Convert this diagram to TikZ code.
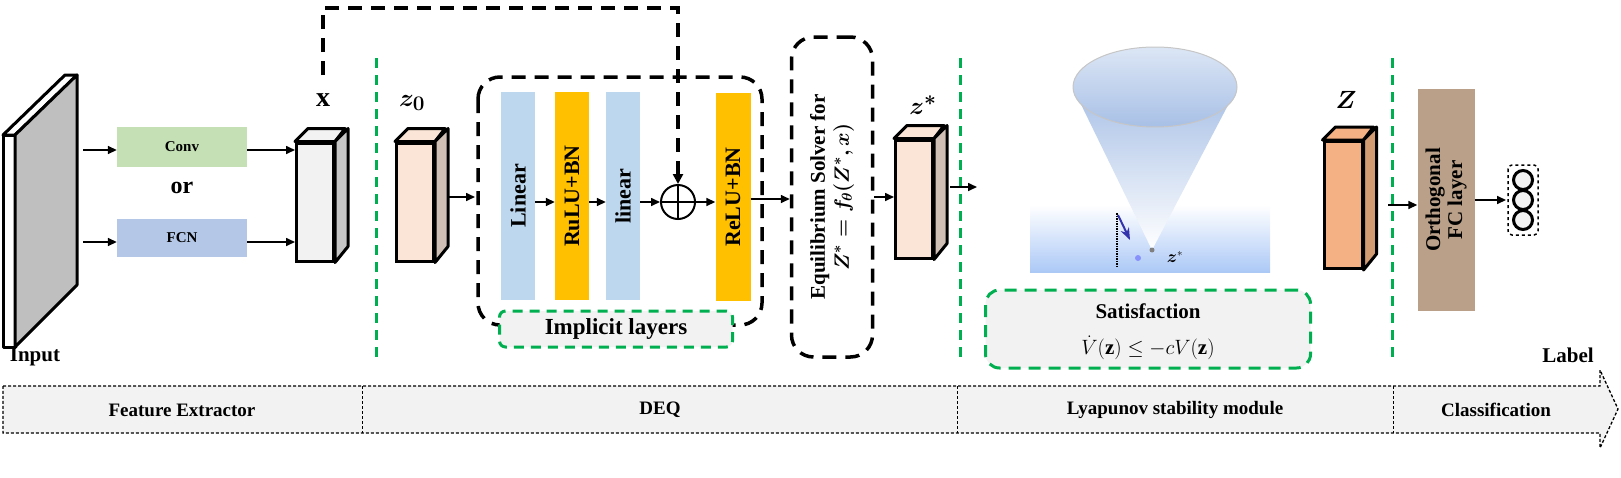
\documentclass[tikz,border=0pt]{standalone}
\usepackage{fontspec}
\setmainfont{Liberation Serif}
\usepackage{amsmath,bm}
\usetikzlibrary{arrows.meta,shadings}
\definecolor{gdash}{HTML}{00B050}
\definecolor{conv}{HTML}{C5E0B4}
\definecolor{fcn}{HTML}{B4C7E7}
\definecolor{lin}{HTML}{BDD7EE}
\definecolor{relu}{HTML}{FFC000}
\definecolor{peach}{HTML}{FBE5D6}
\definecolor{peachside}{HTML}{D0BFB5}
\definecolor{zorange}{HTML}{F4B183}
\definecolor{zside}{HTML}{D39B72}
\definecolor{brownbox}{HTML}{BAA088}
\definecolor{lgray}{HTML}{F2F2F2}
\definecolor{coneblue}{HTML}{A8C0E6}
\definecolor{conelight}{HTML}{DCE6F5}
\definecolor{planeblue}{HTML}{9DBFF5}
\tikzset{
  arr/.style={-{Triangle[length=9pt,width=8pt]},line width=1.6pt},
  front/.style={draw,line width=3pt,minimum width=37pt,minimum height=118pt,inner sep=0pt},
  face/.style={draw,line width=3pt,line join=round},
  layer/.style={minimum width=34pt,minimum height=208pt,inner sep=0pt},
  vtext/.style={rotate=90,font=\bfseries\fontsize{22}{24}\selectfont},
  gsep/.style={gdash,dashed,line width=3pt,dash pattern=on 10pt off 7pt},
  bdash/.style={draw,line width=3.5pt,dash pattern=on 14pt off 9pt,rounded corners=22pt},
  lbl/.style={font=\bfseries\fontsize{21}{23}\selectfont},
  biglbl/.style={font=\bfseries\boldmath\fontsize{28}{30}\selectfont},
}
\begin{document}
\begin{tikzpicture}[x=1pt,y=-1pt]
\useasboundingbox (0,0) rectangle (1621,477);
% input slab
\draw[face,fill=white] (3,135) rectangle (15,347);
\draw[face,fill=white] (3,135) -- (65,75) -- (77,75) -- (15,135) -- cycle;
\draw[face,fill=gray!50] (15,135) -- (77,75) -- (77,285) -- (15,347) -- cycle;
\node[lbl] (inp) at (35,357) {Input};
% conv/fcn
\node[fill=conv,minimum width=130pt,minimum height=40pt,font=\bfseries\fontsize{15}{17}\selectfont] (conv) at (182,147) {Conv};
\node[fill=fcn,minimum width=130pt,minimum height=38pt,font=\bfseries\fontsize{15}{17}\selectfont] (fcn) at (182,238) {FCN};
\node[font=\bfseries\fontsize{24}{26}\selectfont] (or) at (182,188) {or};
\coordinate (i1) at (83,150); \coordinate (i2) at (83,242);
\draw[arr] (i1) -- (conv.west |- i1);
\draw[arr] (i2) -- (fcn.west |- i2);
% x cuboid
\node[front,fill=lgray] (xc) at (315,202) {};
\draw[face,fill=lgray] (xc.north west) -- ++(13,-13) -- ++(37,0) -- (xc.north east) -- cycle;
\draw[face,fill=gray!45] (xc.north east) -- ++(13,-13) -- ++(0,118) -- (xc.south east) -- cycle;
\draw[arr] (conv.east |- i1) -- (xc.west |- i1);
\draw[arr] (fcn.east |- i2) -- (xc.west |- i2);
\node[biglbl] (xl) at (323,100) {x};
% separators
\draw[gsep] (376,58) -- (376,360);
\draw[gsep] (960,58) -- (960,360);
\draw[gsep] (1392,58) -- (1392,360);
% z0
\node[front,fill=peach] (z0) at (415,202) {};
\draw[face,fill=peach] (z0.north west) -- ++(13,-13) -- ++(37,0) -- (z0.north east) -- cycle;
\draw[face,fill=peachside] (z0.north east) -- ++(13,-13) -- ++(0,118) -- (z0.south east) -- cycle;
\node[biglbl] (z0l) at (412,103) {$z_0$};
% implicit box
\draw[bdash] (478,77) rectangle (762,325);
\node[layer,fill=lin] (l1) at (518,196) {}; \node[vtext] at (l1) {Linear};
\node[layer,fill=relu] (l2) at (572,196) {}; \node[vtext] at (l2) {RuLU+BN};
\node[layer,fill=lin] (l3) at (623,196) {}; \node[vtext] at (l3) {linear};
\node[layer,fill=relu,minimum width=35pt] (l4) at (733,197) {}; \node[vtext] at (l4) {ReLU+BN};
\node[circle,draw,line width=2pt,minimum size=34pt,inner sep=0pt] (op) at (678,202) {};
\draw[line width=2pt] (op.north) -- (op.south) (op.west) -- (op.east);
\draw[arr] (z0.east |- 0,197) ++(13,0) -- (475,197);
\draw[arr] (l1.east |- op) -- (l2.west |- op);
\draw[arr] (l2.east |- op) -- (l3.west |- op);
\draw[arr] (l3.east |- op) -- (op.west);
\draw[arr] (op.east) -- (l4.west |- op);
\node[draw=gdash,fill=lgray,line width=3pt,dash pattern=on 10pt off 7pt,rounded corners=6pt,minimum width=233pt,minimum height=36pt,font=\bfseries\fontsize{23}{25}\selectfont] (impl) at (616,329) {Implicit layers};
% equilibrium
\node[bdash,minimum width=81pt,minimum height=320pt] (eq) at (832,197) {};
\node[rotate=90,font=\bfseries\boldmath\fontsize{21}{24}\selectfont,align=center] at (eq) {Equilibrium Solver for\\$Z^*=f_\theta(Z^*,x)$};
\draw[arr] (l4.east |- 0,199) -- (eq.west |- 0,199);
% z*
\node[front,fill=peach] (zs) at (914,199) {};
\draw[face,fill=peach] (zs.north west) -- ++(13,-13) -- ++(37,0) -- (zs.north east) -- cycle;
\draw[face,fill=peachside] (zs.north east) -- ++(13,-13) -- ++(0,118) -- (zs.south east) -- cycle;
\node[biglbl] (zsl) at (923,105) {$z^*$};
\draw[arr] (eq.east |- 0,197) -- (zs.west |- 0,197);
\coordinate (a1) at (950,187);
\draw[arr] (a1) -- ++(27,0);
% Lyapunov scene
\shade[top color=white,bottom color=planeblue,opacity=0.85] (1030,205) rectangle (1270,272);
\shade[top color=coneblue,bottom color=white] (1073,88) -- (1237,88) -- (1152,250) -- cycle;
\shade[top color=conelight,bottom color=coneblue,draw=gray!45,line width=1pt] (1155,87) ellipse (82 and 40);
\draw[densely dotted,line width=1.5pt] (1117,213) -- (1117,268);
\draw[-{Stealth},blue!60!black!80,line width=2pt] (1118,215) -- (1130,240);
\fill[blue!60,opacity=0.6] (1138,258) circle (3);
\fill[gray] (1152,250) circle (2.5);
\node[font=\bfseries\fontsize{16}{18}\selectfont] at (1175,257) {$\bm{z}^*$};
\node[draw=gdash,fill=lgray,line width=3pt,dash pattern=on 12pt off 8pt,rounded corners=14pt,minimum width=325pt,minimum height=78pt] (sat) at (1148,329) {};
\node[font=\bfseries\fontsize{21}{25}\selectfont] (sat1) at (1148,311) {Satisfaction};
\node[font=\fontsize{21}{25}\selectfont] (sat2) at (1148,348) {$\dot V(\mathbf{z})\le -cV(\mathbf{z})$};
% Z
\node[front,fill=zorange,minimum width=38pt,minimum height=127pt] (zz) at (1343,205) {};
\draw[face,fill=zorange] (zz.north west) -- ++(13,-13) -- ++(38,0) -- (zz.north east) -- cycle;
\draw[face,fill=zside] (zz.north east) -- ++(13,-13) -- ++(0,127) -- (zz.south east) -- cycle;
\node[biglbl] (zl) at (1346,100) {$Z$};
% FC
\node[fill=brownbox,minimum width=57pt,minimum height=222pt] (fc) at (1446,200) {};
\node[rotate=90,align=center,font=\bfseries\fontsize{21}{22}\selectfont] at (fc) {Orthogonal\\FC layer};
\draw[arr] (1388,205) -- (fc.west |- 0,205);
\node[circle,draw,line width=3pt,fill=lgray,minimum size=19pt,inner sep=0pt] (c1) at (1523,180) {};
\node[circle,draw,line width=3pt,fill=lgray,minimum size=19pt,inner sep=0pt] (c2) at (1523,200) {};
\node[circle,draw,line width=3pt,fill=lgray,minimum size=19pt,inner sep=0pt] (c3) at (1523,220) {};
\draw[line width=1.5pt,dashed,rounded corners=4pt] (1508,165) rectangle (1538,235);
\draw[arr] (fc.east |- c2) -- (1506,200);
\node[lbl] (lab) at (1568,355) {Label};
% bottom bar
\draw[fill=lgray,line width=1.3pt,densely dashed] (3,386) -- (1600,386) -- (1600,370) -- (1618,409) -- (1600,448) -- (1600,433) -- (3,433) -- cycle;
\draw[line width=1pt,densely dashed] (362,386) -- (362,433) (957,386) -- (957,433) (1393,386) -- (1393,433);
\node[font=\bfseries\fontsize{19}{21}\selectfont] at (182,410) {Feature Extractor};
\node[font=\bfseries\fontsize{19}{21}\selectfont] at (660,410) {DEQ};
\node[font=\bfseries\fontsize{19}{21}\selectfont] at (1175,410) {Lyapunov stability module};
\node[font=\bfseries\fontsize{19}{21}\selectfont] at (1496,410) {Classification};
% feedback dashed line
\draw[line width=3.5pt,dash pattern=on 14pt off 9pt,-{Triangle[length=10pt,width=10pt]}] (xl.north |- 0,75) -- (323,8) -- (678,8) -- (op.north);
\end{tikzpicture}
\end{document}
